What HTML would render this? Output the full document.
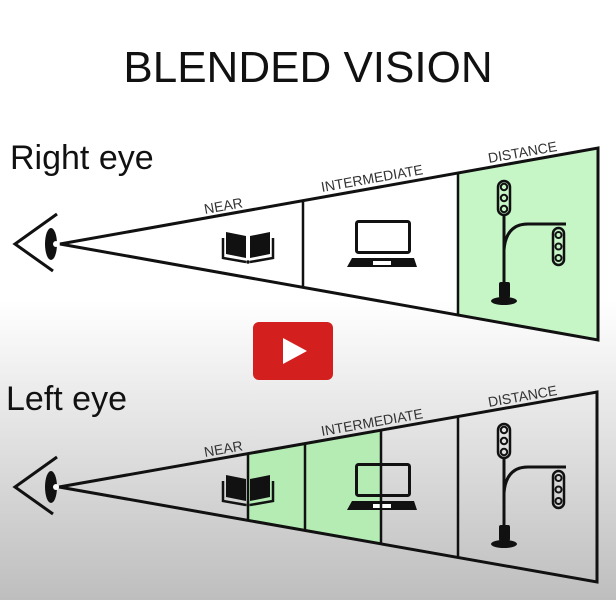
<!DOCTYPE html>
<html><head><meta charset="utf-8"><style>
html,body{margin:0;padding:0}
body{width:616px;height:600px;overflow:hidden;background:linear-gradient(#fff 0%,#fff 50%,#bebebe 100%);font-family:"Liberation Sans",sans-serif}
</style></head><body>
<svg width="616" height="600" viewBox="0 0 616 600" xmlns="http://www.w3.org/2000/svg" style="position:absolute;left:0;top:0">
<defs>
<g id="book">
  <path d="M226 232 L246 236 L246 258 L226 254 Z" fill="#111"/>
  <path d="M250 236 L270 232 L270 254 L250 258 Z" fill="#111"/>
  <path d="M223 238 L223 258 L246 262 M273 238 L273 258 L250 262" fill="none" stroke="#111" stroke-width="2.5"/>
  <circle cx="248" cy="262" r="1.8" fill="#111"/>
</g>
<g id="laptop">
  <rect x="356.5" y="221.5" width="53" height="31" rx="2" fill="none" stroke="#111" stroke-width="3"/>
  <path d="M352 258 L414 258 L417 267 L347 267 Z" fill="#111"/>
  <rect x="373" y="261" width="18" height="4" fill="#fff"/>
</g>
<g id="tl">
  <rect x="498" y="181" width="12" height="34" rx="6" fill="none" stroke="#111" stroke-width="2.5"/>
  <circle cx="504" cy="187" r="3.2" fill="none" stroke="#111" stroke-width="2"/>
  <circle cx="504" cy="198" r="3.2" fill="none" stroke="#111" stroke-width="2"/>
  <circle cx="504" cy="209" r="3.2" fill="none" stroke="#111" stroke-width="2"/>
  <line x1="504" y1="215" x2="504" y2="285" stroke="#111" stroke-width="3"/>
  <path d="M504 250 Q506 224 528 224 L566 224" fill="none" stroke="#111" stroke-width="3"/>
  <rect x="553" y="228" width="11" height="37" rx="5.5" fill="none" stroke="#111" stroke-width="2.5"/>
  <circle cx="558.5" cy="235" r="3" fill="none" stroke="#111" stroke-width="2"/>
  <circle cx="558.5" cy="246.5" r="3" fill="none" stroke="#111" stroke-width="2"/>
  <circle cx="558.5" cy="258" r="3" fill="none" stroke="#111" stroke-width="2"/>
  <rect x="499" y="282" width="11" height="16" rx="2" fill="#111"/>
  <ellipse cx="504" cy="301" rx="13" ry="4" fill="#111"/>
</g>
<g id="eye">
  <path d="M57 214 L15 244 L53 271" fill="none" stroke="#111" stroke-width="3"/>
  <ellipse cx="51" cy="244" rx="6" ry="16" fill="#111"/>
  <circle cx="56" cy="244" r="3" fill="#fff"/>
</g>
</defs>

<text x="308" y="82" text-anchor="middle" font-size="44" font-family="Liberation Sans, sans-serif" fill="#111">BLENDED VISION</text>
<text x="10" y="169" font-size="34" fill="#111">Right eye</text>
<text x="6" y="410" font-size="34" fill="#111">Left eye</text>

<!-- top diagram -->
<polygon points="458,173 598,148 598,340 458,315" fill="#c6f5c6"/>
<polygon points="60,244 598,148 598,340" fill="none" stroke="#111" stroke-width="3"/>
<line x1="303" y1="200.6" x2="303" y2="287.4" stroke="#111" stroke-width="2.5"/>
<line x1="458" y1="173" x2="458" y2="315" stroke="#111" stroke-width="2.5"/>
<use href="#eye"/>
<use href="#book"/><use href="#laptop"/><use href="#tl"/>
<g font-size="14" fill="#333">
<text transform="translate(205,214) rotate(-10)">NEAR</text>
<text transform="translate(322,192) rotate(-10)">INTERMEDIATE</text>
<text transform="translate(489,163) rotate(-10)">DISTANCE</text>
</g>

<!-- play button -->
<rect x="253" y="322" width="80" height="58" rx="6" fill="#d41f1f"/>
<polygon points="283,338 283,364 307,351" fill="#fff"/>

<!-- bottom diagram -->
<polygon points="248,453.6 381,430.1 381,543.9 248,520.4" fill="#b4ecb4"/>
<g transform="translate(0,243)"><use href="#book"/><use href="#laptop"/><use href="#tl"/></g>
<polygon points="59,487 597,392 597,582" fill="none" stroke="#111" stroke-width="3"/>
<line x1="248" y1="453.6" x2="248" y2="520.4" stroke="#111" stroke-width="2.5"/>
<line x1="305" y1="443.6" x2="305" y2="530.4" stroke="#111" stroke-width="2.5"/>
<line x1="381" y1="430.1" x2="381" y2="543.9" stroke="#111" stroke-width="2.5"/>
<line x1="458" y1="416.5" x2="458" y2="557.5" stroke="#111" stroke-width="2.5"/>
<g transform="translate(0,243)"><use href="#eye"/></g>
<g font-size="14" fill="#333">
<text transform="translate(205,457) rotate(-10)">NEAR</text>
<text transform="translate(322,436) rotate(-10)">INTERMEDIATE</text>
<text transform="translate(489,407) rotate(-10)">DISTANCE</text>
</g>
</svg>
</body></html>
